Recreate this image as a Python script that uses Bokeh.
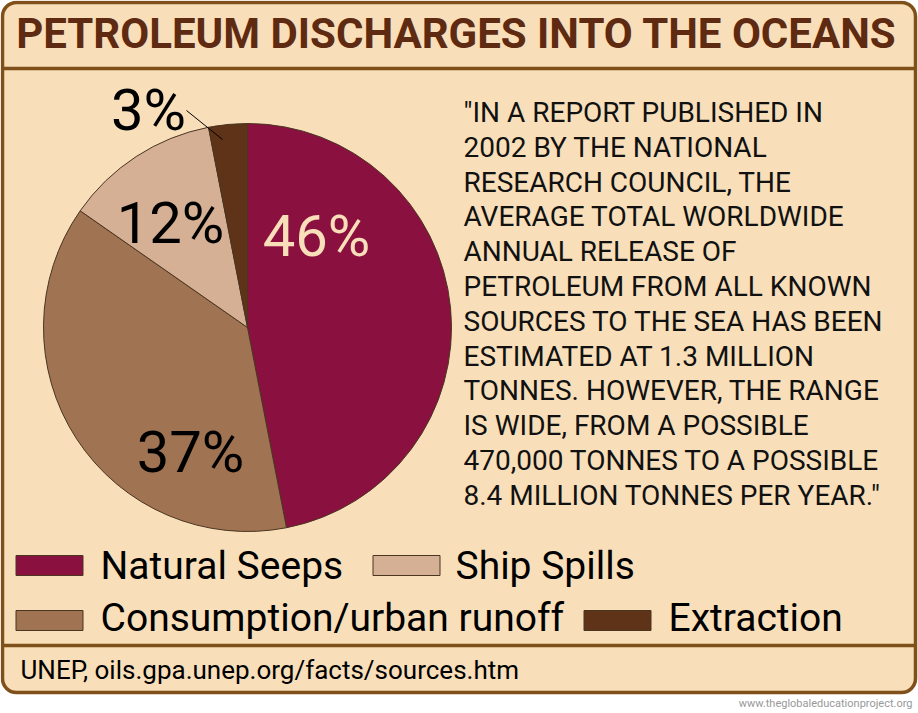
import math
from bokeh.plotting import figure
from bokeh.models import Range1d
from bokeh.core.properties import value
from bokeh.embed import file_html
from bokeh.resources import INLINE

# ---------------- data ----------------
categories = ["Natural Seeps", "Consumption/urban runoff", "Ship Spills", "Extraction"]
shares = [46, 37, 12, 3]
colors = ["#8A1040", "#A07353", "#D5B094", "#5E3317"]
pct_labels = ["46%", "37%", "12%", "3%"]
title_text = "PETROLEUM DISCHARGES INTO THE OCEANS"
quote_lines = [
    '"IN A REPORT PUBLISHED IN',
    "2002 BY THE NATIONAL",
    "RESEARCH COUNCIL, THE",
    "AVERAGE TOTAL WORLDWIDE",
    "ANNUAL RELEASE OF",
    "PETROLEUM FROM ALL KNOWN",
    "SOURCES TO THE SEA HAS BEEN",
    "ESTIMATED AT 1.3 MILLION",
    "TONNES. HOWEVER, THE RANGE",
    "IS WIDE, FROM A POSSIBLE",
    "470,000 TONNES TO A POSSIBLE",
    '8.4 MILLION TONNES PER YEAR."',
]
source_text = "UNEP, oils.gpa.unep.org/facts/sources.htm"
watermark = "www.theglobaleducationproject.org"

# ---------------- layout ----------------
W, H = 918, 713
BG = "#F8DFBA"
FRAME = "#80501A"
FONT = "Roboto"
SHIFT = 0.36  # empirical baseline correction (fraction of font size)


def Y(py):
    return H - py


def B(baseline_px, size):
    """y for a text whose visible baseline should sit at baseline_px."""
    return Y(baseline_px - SHIFT * size)


p = figure(width=W, height=H, output_backend="svg", toolbar_location=None,
           x_range=Range1d(0, W), y_range=Range1d(0, H), min_border=0)
p.axis.visible = False
p.grid.visible = False
p.outline_line_color = None
p.background_fill_color = "white"
p.border_fill_color = "white"

# frame
p.quad(left=[2], right=[915], top=[Y(2)], bottom=[Y(692)], fill_color=BG,
       line_color=FRAME, line_width=3.5, border_radius=14)
p.segment(x0=[2, 2], y0=[Y(68), Y(645)], x1=[915, 915], y1=[Y(68), Y(645)],
          line_color=FRAME, line_width=3.5)

# title
ts = 42
p.text(x=[456], y=[B(48, ts)], text=[title_text], text_font=value(FONT),
       text_font_style="bold", text_font_size=f"{ts}px", text_color="#5E2A12",
       text_align="center", text_baseline="alphabetic")

# pie
cx, cy, r = 247, Y(327), 204
total = sum(shares)
starts, ends = [], []
a = math.pi / 2
for s in shares:
    starts.append(a)
    a -= 2 * math.pi * s / total
    ends.append(a)
p.wedge(x=[cx] * 4, y=[cy] * 4, radius=r, start_angle=starts, end_angle=ends,
        direction="clock", fill_color=colors, line_color="#4A3520", line_width=1)

# percentage labels
ls = 58
lab_x = [316, 190, 170, 148]
lab_y = [B(256, ls), B(472, ls), B(243, ls), B(130, ls)]
lab_col = [BG, "black", "black", "black"]
p.text(x=lab_x, y=lab_y, text=pct_labels, text_font=value(FONT),
       text_font_size=f"{ls}px", text_color=lab_col, text_align="center",
       text_baseline="alphabetic")
# leader for 3%
p.segment(x0=[186], y0=[Y(110)], x1=[222], y1=[Y(139)], line_color="black", line_width=1)

# quote
qs = 28
qx, qy0, qstep = 463, 122, 34.8
p.text(x=[qx] * len(quote_lines), y=[B(qy0 + i * qstep, qs) for i in range(len(quote_lines))],
       text=quote_lines, text_font=value(FONT), text_font_size=f"{qs}px",
       text_color="#111111", text_align="left", text_baseline="alphabetic")

# legend
gs = 39
leg_box_x = [49, 49, 406, 617]
leg_box_y = [Y(565), Y(620), Y(565), Y(620)]
leg_txt_x = [100, 100, 455, 668]
leg_txt_y = [B(580, gs), B(632, gs), B(580, gs), B(632, gs)]
p.rect(x=leg_box_x, y=leg_box_y, width=67, height=20, fill_color=colors,
       line_color="#4A3520", line_width=1)
p.text(x=leg_txt_x, y=leg_txt_y, text=categories, text_font=value(FONT),
       text_font_size=f"{gs}px", text_color="black", text_align="left",
       text_baseline="alphabetic")

# source
ss = 26
p.text(x=[20], y=[B(679, ss)], text=[source_text], text_font=value(FONT),
       text_font_size=f"{ss}px", text_color="black", text_align="left",
       text_baseline="alphabetic")
ws = 11
p.text(x=[912], y=[B(707, ws)], text=[watermark], text_font=value(FONT),
       text_font_size=f"{ws}px", text_color="#999999", text_align="right",
       text_baseline="alphabetic")

open("out.html", "w").write(file_html(p, INLINE))
